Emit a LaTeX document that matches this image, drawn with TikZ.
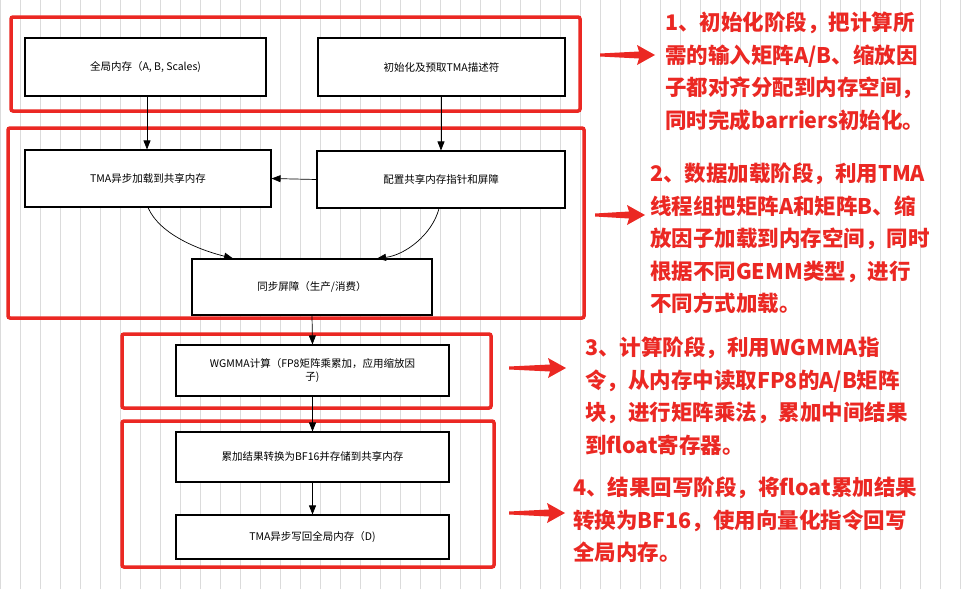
\documentclass[tikz,border=0pt]{standalone}
\usepackage{fontspec}
\setmainfont{Noto Sans CJK SC}
\usetikzlibrary{arrows.meta}
\definecolor{rd}{RGB}{235,40,35}
\tikzset{
  bx/.style={draw=black,line width=1.1pt,fill=white,inner sep=0pt,font=\fontsize{10.5}{12.5}\selectfont,align=center},
  grp/.style={draw=rd,line width=3.5pt,rounded corners=2pt},
  con/.style={-{Triangle[length=9pt,width=7pt]},line width=0.7pt},
  note/.style={text=rd,font=\fontsize{21.5}{32.5}\selectfont\bfseries,align=left,anchor=north west,inner sep=0pt},
  rarr/.style={fill=rd,draw=none}
}
\begin{document}
\begin{tikzpicture}[x=1pt,y=-1pt]
\useasboundingbox (0,0) rectangle (969,589);
\fill[white] (0,0) rectangle (969,589);
\draw[gray!28,line width=0.5pt] (0,0) grid[step=20] (969,589);
% groups
\draw[grp] (11,17) rectangle (580,111);
\draw[grp] (8,128) rectangle (584,318);
\draw[grp] (122,334) rectangle (491,408);
\draw[grp] (122,421) rectangle (494,567);
% boxes
\node[bx,minimum width=241pt,minimum height=58pt] (a) at (145.5,67) {全局内存（A, B, Scales)};
\node[bx,minimum width=247pt,minimum height=58pt] (b) at (441.5,67) {初始化及预取TMA描述符};
\node[bx,minimum width=246pt,minimum height=57pt] (c) at (148,178.5) {TMA异步加载到共享内存};
\node[bx,minimum width=248pt,minimum height=57pt] (d) at (441,179.5) {配置共享内存指针和屏障};
\node[bx,minimum width=240pt,minimum height=56pt] (e) at (312,287) {同步屏障（生产/消费）};
\node[bx,minimum width=273pt,minimum height=51pt] (f) at (312.5,370.5) {WGMMA计算（FP8矩阵乘累加，应用缩放因\\子)};
\node[bx,minimum width=273pt,minimum height=50pt] (g) at (312.5,457) {累加结果转换为BF16并存储到共享内存};
\node[bx,minimum width=273pt,minimum height=44pt] (h) at (312.5,537) {TMA异步写回全局内存（D)};
% connectors
\draw[con] (a.south -| 147,0) -- (c.north -| 147,0);
\draw[con] (b.south -| 441,0) -- (d.north -| 441,0);
\draw[con] (d.west) -- (c.east);
\draw[con] (c.south -| 148,0) .. controls (160,235) and (200,250) .. (e.north -| 233,0);
\draw[con] (d.south -| 439,0) .. controls (432,235) and (405,255) .. (e.north -| 377,0);
\draw[con] (e.south) -- (f.north);
\draw[con] (f.south) -- (g.north);
\draw[con] (g.south) -- (h.north);
% red arrows
\foreach \x/\y/\l in {600/55/55, 595/215/50, 509/368/57, 509/513/56}{
  \fill[rarr] (\x,\y-1.5) -- (\x+\l-16,\y-3.5) -- (\x+\l-18,\y-10) -- (\x+\l,\y) -- (\x+\l-18,\y+10) -- (\x+\l-16,\y+3.5) -- (\x,\y+1.5) -- cycle;
}
% notes
\node[note] (n1) at (665,12) {1、初始化阶段，把计算所\\需的输入矩阵A/B、缩放因\\子都对齐分配到内存空间，\\同时完成barriers初始化。};
\node[note] (n2) at (650,163) {2、数据加载阶段，利用TMA\\线程组把矩阵A和矩阵B、缩\\放因子加载到内存空间，同时\\根据不同GEMM类型，进行\\不同方式加载。};
\node[note] (n3) at (585,337) {3、计算阶段，利用WGMMA指\\令，从内存中读取FP8的A/B矩阵\\块，进行矩阵乘法，累加中间结果\\到float寄存器。};
\node[note] (n4) at (573,477) {4、结果回写阶段，将float累加结果\\转换为BF16，使用向量化指令回写\\全局内存。};
\end{tikzpicture}
\end{document}
